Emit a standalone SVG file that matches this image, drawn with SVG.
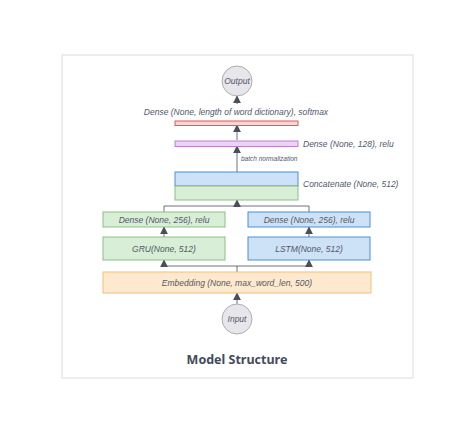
<svg xmlns="http://www.w3.org/2000/svg" width="474" height="434" viewBox="0 0 474 434">
<defs>
<marker id="ah" viewBox="0 0 10 10" refX="9" refY="5" markerWidth="8" markerHeight="8" markerUnits="userSpaceOnUse" orient="auto">
<path d="M0,0 L10,5 L0,10 z" fill="#4a4f5c"/>
</marker>
<style>
.t{font-family:"Liberation Sans",Arial,sans-serif;font-style:italic;font-size:8.5px;fill:#525868}
.s{font-family:"Liberation Sans",Arial,sans-serif;font-style:italic;font-size:6.5px;fill:#525868}
.c{fill:#e6e6eb;stroke:#9a9ca4;stroke-width:0.8}
.g{fill:#d8eed6;stroke:#8cc084;stroke-width:1}
.b{fill:#cde2f6;stroke:#4a8fd6;stroke-width:1}
.l{fill:none;stroke:#4a4f5c;stroke-width:0.8}
</style>
</defs>
<rect x="0" y="0" width="474" height="434" fill="#ffffff"/>
<rect id="frame" x="62" y="55" width="351" height="323" fill="#ffffff" stroke="#dcdcdc" stroke-width="1"/>
<g id="connectors">
<line class="l" x1="237" y1="104" x2="237" y2="96" marker-end="url(#ah)"/>
<line class="l" x1="237" y1="140" x2="237" y2="125" marker-end="url(#ah)"/>
<line class="l" x1="237" y1="172" x2="237" y2="146" marker-end="url(#ah)"/>
<line class="l" x1="237" y1="206" x2="237" y2="200" marker-end="url(#ah)"/>
<polyline class="l" points="164,212 164,206 309,206 309,212"/>
<line class="l" x1="164" y1="237" x2="164" y2="227" marker-end="url(#ah)"/>
<line class="l" x1="309" y1="237" x2="309" y2="227" marker-end="url(#ah)"/>
<line class="l" x1="237" y1="272" x2="237" y2="266"/>
<line class="l" x1="164" y1="266" x2="309" y2="266"/>
<line class="l" x1="164" y1="266" x2="164" y2="260" marker-end="url(#ah)"/>
<line class="l" x1="309" y1="266" x2="309" y2="260" marker-end="url(#ah)"/>
<line class="l" x1="237" y1="304" x2="237" y2="293" marker-end="url(#ah)"/>
</g>
<g id="output">
<circle class="c" cx="237" cy="81" r="15"/>
<text class="t" x="237" y="84" text-anchor="middle">Output</text>
</g>
<g id="dense-softmax">
<rect x="175" y="121" width="123" height="4.5" fill="#fbd3d2" stroke="#e25a5a" stroke-width="1"/>
<text class="t" x="236" y="115" text-anchor="middle">Dense (None, length of word dictionary), softmax</text>
</g>
<g id="dense-128">
<rect x="175" y="141" width="123" height="5.5" fill="#ecd3f3" stroke="#bb7fcf" stroke-width="1"/>
<text class="t" x="303" y="147">Dense (None, 128), relu</text>
</g>
<text class="s" x="241" y="161">batch normalization</text>
<g id="concatenate">
<rect class="b" x="175" y="172" width="123" height="14"/>
<rect class="g" x="175" y="186" width="123" height="14"/>
<text class="t" x="303" y="187">Concatenate (None, 512)</text>
</g>
<g id="dense-gru">
<rect class="g" x="103" y="212" width="122" height="15"/>
<text class="t" x="164" y="222.5" text-anchor="middle">Dense (None, 256), relu</text>
</g>
<g id="dense-lstm">
<rect class="b" x="248" y="212" width="122" height="15"/>
<text class="t" x="309" y="222.5" text-anchor="middle">Dense (None, 256), relu</text>
</g>
<g id="gru">
<rect class="g" x="103" y="237" width="122" height="23"/>
<text class="t" x="164" y="251.5" text-anchor="middle">GRU(None, 512)</text>
</g>
<g id="lstm">
<rect class="b" x="248" y="237" width="122" height="23"/>
<text class="t" x="309" y="251.5" text-anchor="middle">LSTM(None, 512)</text>
</g>
<g id="embedding">
<rect x="103" y="272" width="268" height="21" fill="#fee9cf" stroke="#f2c07a" stroke-width="1"/>
<text class="t" x="237" y="285.5" text-anchor="middle">Embedding (None, max_word_len, 500)</text>
</g>
<g id="input">
<circle class="c" cx="237" cy="319" r="15"/>
<text class="t" x="237" y="322" text-anchor="middle">Input</text>
</g>
<text x="237" y="364" text-anchor="middle" font-family="'Noto Sans','Liberation Sans',sans-serif" font-weight="bold" font-size="12.5" fill="#434a5a">Model Structure</text>
</svg>
